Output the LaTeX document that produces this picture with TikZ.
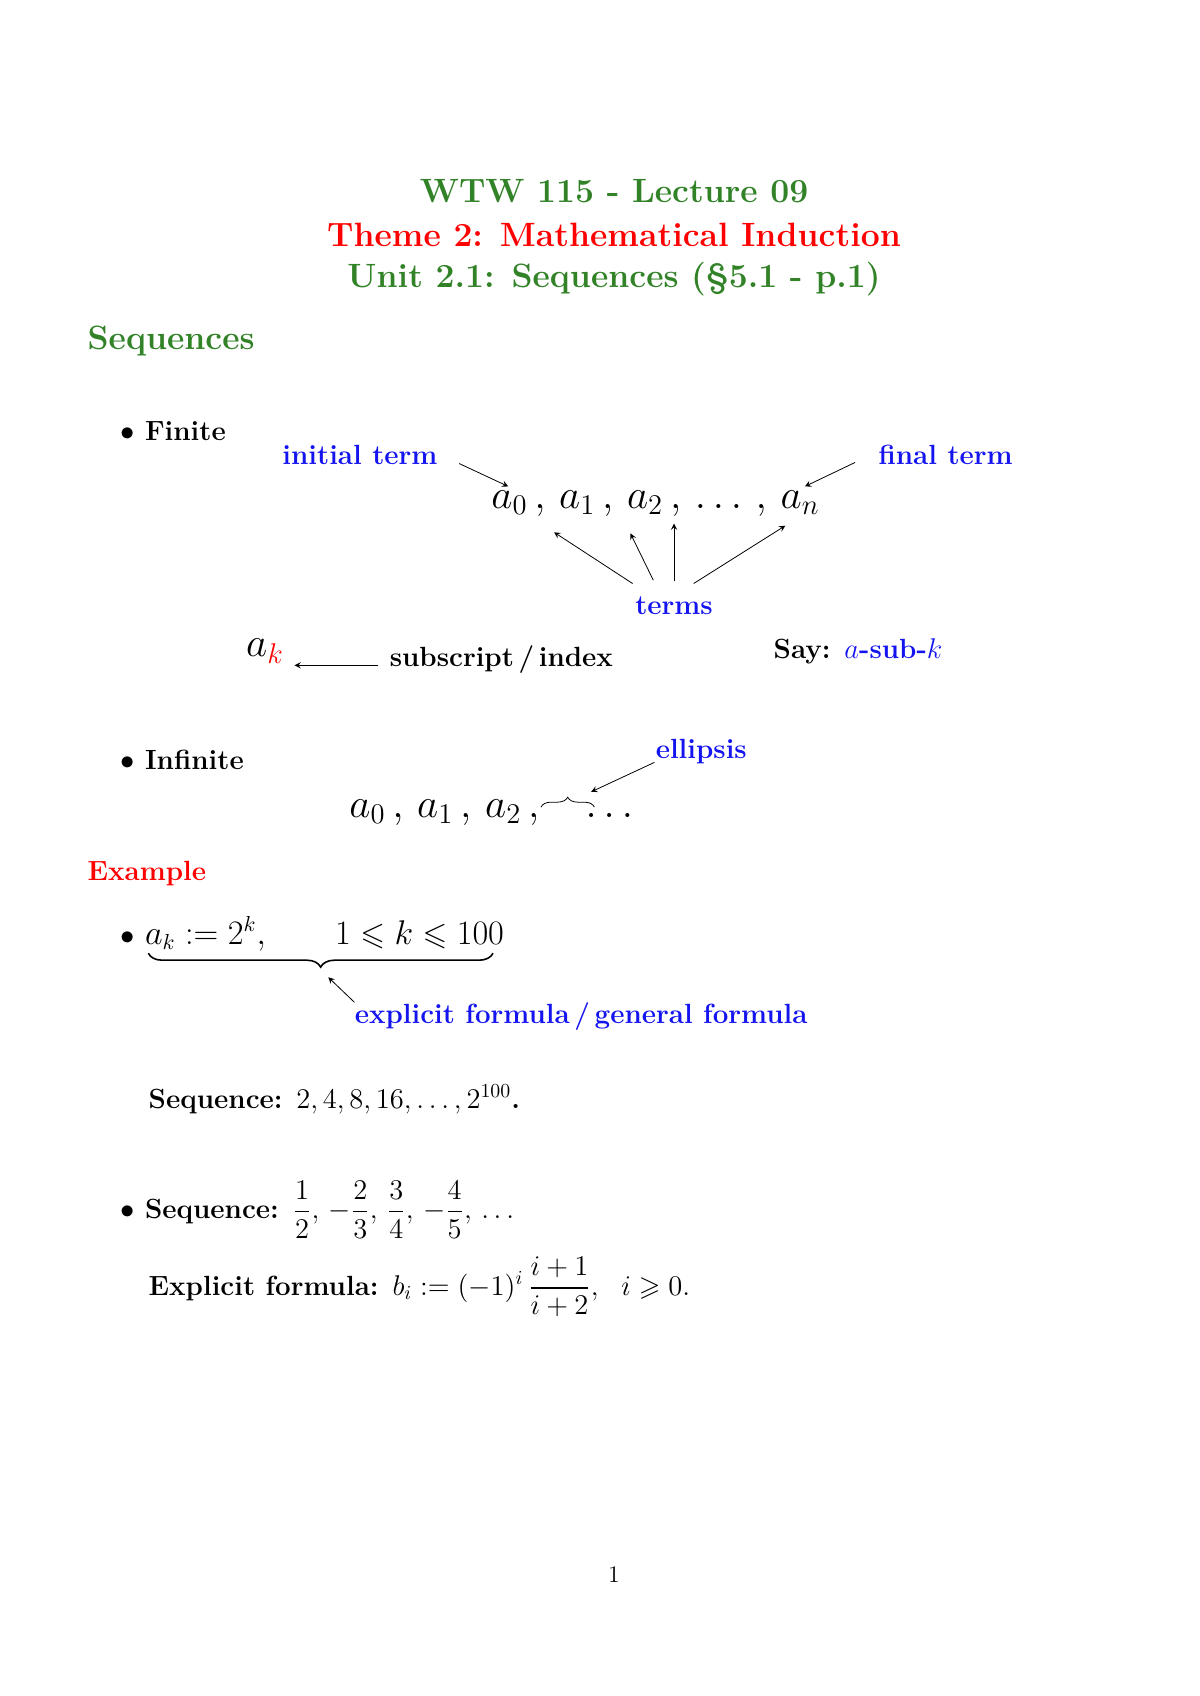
\documentclass[tikz,border=0pt]{standalone}
\usepackage{amsmath,amssymb}
\usetikzlibrary{decorations.pathreplacing}
\definecolor{dgreen}{RGB}{50,130,40}
\definecolor{bl}{RGB}{20,20,240}
\begin{document}
\begin{tikzpicture}[x=0.55pt,y=-0.55pt,
  txt/.style={anchor=west,inner sep=0pt,font=\fontsize{14}{16}\selectfont\bfseries},
  lab/.style={inner sep=0pt,text=bl,font=\fontsize{14}{16}\selectfont\bfseries},
  arr/.style={-stealth,thin}]
\useasboundingbox (0,0) rectangle (1100,1555);
\node[inner sep=0pt,text=dgreen,font=\fontsize{17}{20}\selectfont\bfseries] (t1) at (563,175) {WTW 115 - Lecture 09};
\node[inner sep=0pt,text=red,font=\fontsize{17}{20}\selectfont\bfseries] (t2) at (563,215) {Theme 2: Mathematical Induction};
\node[inner sep=0pt,text=dgreen,font=\fontsize{17}{20}\selectfont\bfseries] (t3) at (563,256) {Unit 2.1: Sequences (\S5.1 - p.1)};
\node[anchor=west,inner sep=0pt,text=dgreen,font=\fontsize{17}{20}\selectfont\bfseries] (sq) at (80,313) {Sequences};
\node[txt] (fin) at (110,395) {$\bullet$ Finite};
\node[lab] (init) at (330,417) {initial term};
\node[lab] (final) at (867,417) {final term};
\node[inner sep=0pt,font=\fontsize{20}{22}\selectfont] (seq) at (601,462) {$a_{0}\,,\,a_{1}\,,\,a_{2}\,,\,\ldots\,,\,a_{n}$};
\coordinate (s0) at (508,488); \coordinate (s1) at (578,489); \coordinate (s2) at (618,480); \coordinate (sn) at (720,482);
\coordinate (il) at (421,425); \coordinate (ie) at (466,446);
\coordinate (fl) at (784,424); \coordinate (fe) at (738,446);
\draw[arr] (il) -- (ie); \draw[arr] (fl) -- (fe);
\node[lab] (terms) at (618,555) {terms};
\draw[arr] (580,535) -- (s0); \draw[arr] (599,532) -- (s1); \draw[arr] (618,533) -- (s2); \draw[arr] (636,535) -- (sn);
\node[inner sep=0pt,font=\fontsize{20}{22}\selectfont] (ak) at (243,597) {$a_{\color{red}k}$};
\node[txt] (sub) at (357,605) {subscript\,/\,index};
\draw[arr] (sub.west) ++(-10,5) coordinate (sw) -- (270,610);
\node[txt] (say) at (709,597) {Say: \textcolor{bl}{$a$-sub-$k$}};
\node[txt] (inf) at (110,697) {$\bullet$ Infinite};
\node[lab] (ell) at (643,689) {ellipsis};
\node[anchor=west,inner sep=0pt,font=\fontsize{20}{22}\selectfont] (iseq) at (320,745) {$a_{0}\,,\,a_{1}\,,\,a_{2}\,,\quad\ldots$};
\draw[thin,decorate,decoration={brace,amplitude=5pt}] (496,740) -- (545,740);
\draw[arr] (600,699) -- (542,726);
\node[anchor=west,inner sep=0pt,text=red,font=\fontsize{14}{16}\selectfont\bfseries] (ex) at (80,801) {Example};
\node[txt] (ak2) at (110,856) {$\bullet$ \fontsize{16}{18}\selectfont\mdseries $a_k:=2^k,\qquad 1\leqslant k\leqslant 100$};
\draw[thick,decorate,decoration={brace,mirror,amplitude=7pt}] (136,874) -- (452,874);
\draw[arr] (325,919) -- (301,896);
\node[lab,anchor=west] (expl) at (325,932) {explicit formula\,/\,general formula};
\node[txt] (s2) at (136,1008) {Sequence: \mdseries$2,4,8,16,\ldots,2^{100}$\bfseries.};
\node[txt] (s3) at (110,1109) {$\bullet$ Sequence: \mdseries$\dfrac12,\,-\dfrac23,\,\dfrac34,\,-\dfrac45,\,\ldots$};
\node[txt] (ef) at (136,1180) {Explicit formula: \mdseries$b_i:=(-1)^i\,\dfrac{i+1}{i+2},\ \ i\geqslant 0.$};
\node[inner sep=0pt,font=\fontsize{12}{14}\selectfont] (pg) at (563,1444) {1};
\end{tikzpicture}
\end{document}
